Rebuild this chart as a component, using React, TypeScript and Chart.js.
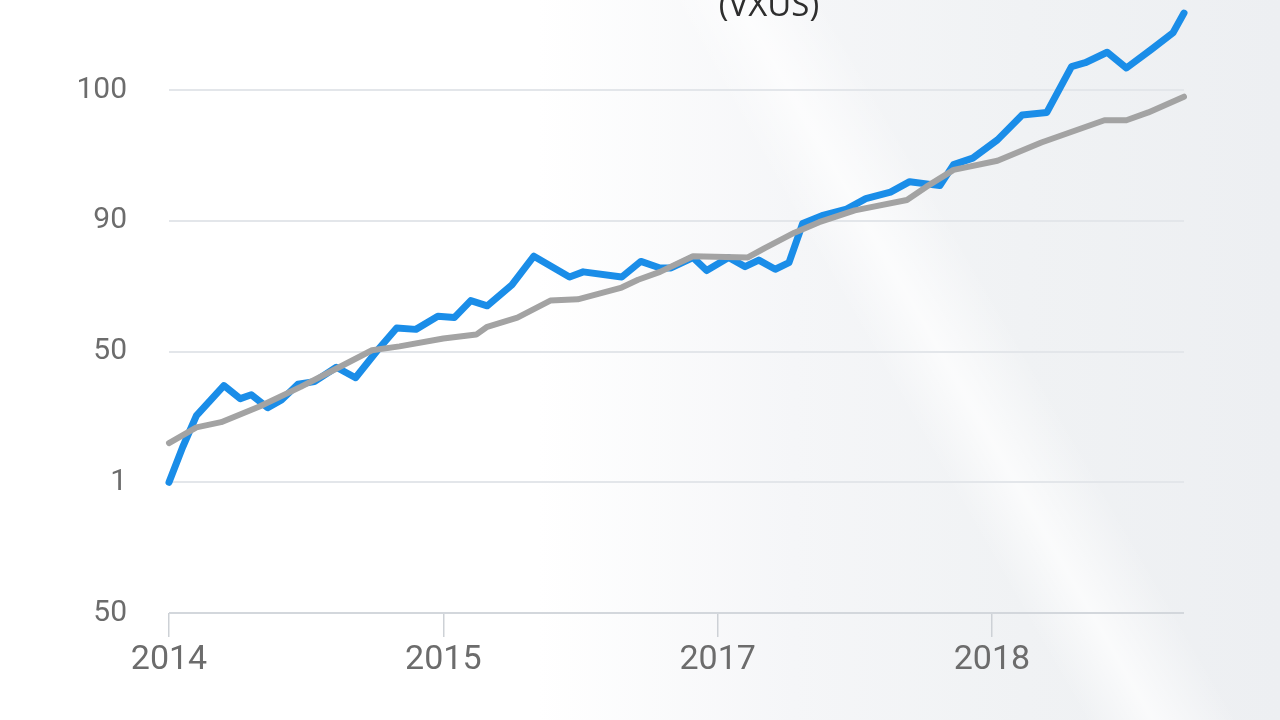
import React, { useEffect, useRef } from "react";
import { Chart, registerables } from "chart.js";

Chart.register(...registerables);

const titleText = "(VXUS)";

const xTickValues = [0, 1, 2, 3];
const xTickLabels = ["2014", "2015", "2017", "2018"];
const yTickValues = [0, 1, 2, 3, 4];
const yTickLabels = ["50", "1", "50", "90", "100"];

const vxusX = [
  0.0, 0.05, 0.1, 0.2, 0.26, 0.3, 0.36, 0.41, 0.47, 0.53, 0.61, 0.68, 0.76, 0.83, 0.9, 0.98,
  1.04, 1.1, 1.16, 1.25, 1.33, 1.46, 1.51, 1.65, 1.72, 1.79, 1.83, 1.91, 1.96, 2.04, 2.1,
  2.15, 2.21, 2.26, 2.31, 2.38, 2.47, 2.54, 2.63, 2.7, 2.81, 2.86, 2.93, 3.02, 3.11, 3.2,
  3.29, 3.34, 3.42, 3.49, 3.58, 3.66, 3.7,
];
const vxusY = [
  1.0, 1.27, 1.51, 1.74, 1.64, 1.67, 1.57, 1.63, 1.75, 1.77, 1.88, 1.8, 2.01, 2.18, 2.17, 2.27,
  2.26, 2.39, 2.35, 2.51, 2.73, 2.57, 2.61, 2.57, 2.69, 2.64, 2.64, 2.72, 2.62, 2.72, 2.65,
  2.7, 2.63, 2.68, 2.98, 3.04, 3.09, 3.17, 3.22, 3.3, 3.27, 3.43, 3.48, 3.62, 3.81, 3.83,
  4.18, 4.21, 4.29, 4.17, 4.31, 4.44, 4.59,
];

const benchX = [
  0.0, 0.1, 0.19, 0.33, 0.48, 0.62, 0.74, 0.84, 1.0, 1.12, 1.16, 1.27, 1.39, 1.49, 1.65, 1.71,
  1.79, 1.91, 2.11, 2.17, 2.28, 2.37, 2.5, 2.69, 2.76, 2.86, 3.02, 3.18, 3.41, 3.49, 3.57, 3.7,
];
const benchY = [
  1.3, 1.42, 1.46, 1.58, 1.73, 1.88, 2.01, 2.04, 2.1, 2.13, 2.19, 2.26, 2.39, 2.4, 2.49, 2.55,
  2.61, 2.73, 2.72, 2.79, 2.91, 2.99, 3.08, 3.16, 3.26, 3.39, 3.46, 3.6, 3.77, 3.77, 3.83, 3.95,
];

export default function App() {
  const canvasRef = useRef<HTMLCanvasElement | null>(null);

  useEffect(() => {
    if (!canvasRef.current) return;
    const chart = new Chart(canvasRef.current, {
      type: "line",
      data: {
        datasets: [
          {
            label: "Benchmark",
            data: benchX.map((x, i) => ({ x, y: benchY[i] })),
            borderColor: "#a3a3a3",
            borderWidth: 6,
            pointRadius: 0,
            tension: 0,
            borderJoinStyle: "round",
            borderCapStyle: "round",
            clip: false,
          },
          {
            label: "VXUS",
            data: vxusX.map((x, i) => ({ x, y: vxusY[i] })),
            borderColor: "#1a8de8",
            borderWidth: 7,
            pointRadius: 0,
            tension: 0,
            borderJoinStyle: "round",
            borderCapStyle: "round",
            clip: false,
          },
        ],
      },
      options: {
        responsive: false,
        animation: false,
        layout: { padding: { left: 0, right: 96, top: 0, bottom: 0 } },
        plugins: {
          legend: { display: false },
          title: { display: false },
          tooltip: { enabled: false },
        },
        scales: {
          x: {
            type: "linear",
            min: 0,
            max: 3.7,
            afterBuildTicks: (s: any) => {
              s.ticks = xTickValues.map((v) => ({ value: v }));
            },
            afterFit: (s: any) => {
              s.height = 107;
              s.paddingLeft = 0;
              s.paddingRight = 0;
              s.paddingTop = 0;
              s.paddingBottom = 0;
            },
            grid: {
              drawOnChartArea: false,
              drawTicks: true,
              tickLength: 24,
              color: "#cdd1d6",
              lineWidth: 1.5,
            },
            border: { display: false },
            ticks: {
              autoSkip: false,
              maxRotation: 0,
              padding: 3,
              color: "#6c6c6c",
              font: { family: "Roboto", size: 34 },
              callback: (v: any) => {
                const i = xTickValues.indexOf(Number(v));
                return i >= 0 ? xTickLabels[i] : "";
              },
            },
          },
          y: {
            type: "linear",
            min: 0,
            max: 4.69,
            afterBuildTicks: (s: any) => {
              s.ticks = yTickValues.map((v) => ({ value: v }));
            },
            afterFit: (s: any) => {
              s.width = 169;
              s.paddingTop = 0;
              s.paddingBottom = 0;
              s.paddingLeft = 0;
              s.paddingRight = 0;
            },
            grid: {
              drawTicks: false,
              color: (ctx: any) => (ctx.tick && ctx.tick.value === 0 ? "#d3d7dc" : "#e3e6ea"),
              lineWidth: 2,
            },
            border: { display: false },
            ticks: {
              padding: 42,
              color: "#6c6c6c",
              font: { family: "Roboto", size: 30 },
              callback: (v: any) => {
                const i = yTickValues.indexOf(Number(v));
                return i >= 0 ? yTickLabels[i] : "";
              },
            },
          },
        },
      },
    });
    return () => chart.destroy();
  }, []);

  return (
    <div
      style={{
        position: "fixed",
        left: 0,
        top: 0,
        width: 1280,
        height: 720,
        overflow: "hidden",
        background:
          "linear-gradient(60deg, rgba(255,255,255,0) 64%, rgba(255,255,255,0.7) 68%, rgba(255,255,255,0) 73%), linear-gradient(90deg, #ffffff 0%, #ffffff 42%, #f5f6f8 62%, #f0f2f4 80%, #edeff2 100%)",
      }}
    >
      <canvas ref={canvasRef} width={1280} height={720} style={{ position: "absolute", left: 0, top: 0 }} />
      <div
        style={{
          position: "absolute",
          left: 769,
          top: -13,
          transform: "translateX(-50%)",
          fontFamily: "'Open Sans', sans-serif",
          fontSize: 33,
          lineHeight: "33px",
          color: "#2e2e2e",
          whiteSpace: "nowrap",
        }}
      >
        {titleText}
      </div>
    </div>
  );
}
